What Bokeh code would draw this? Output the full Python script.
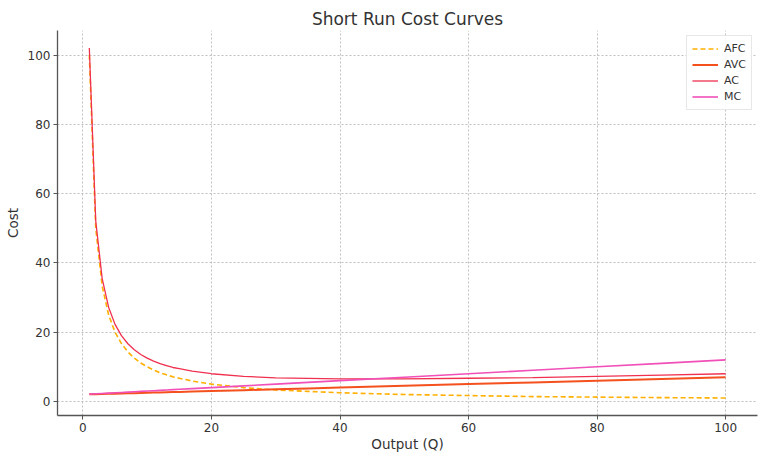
from bokeh.plotting import figure
from bokeh.models import FixedTicker, Range1d
from bokeh.embed import file_html
from bokeh.resources import INLINE

# Output levels and values
Q   = [1, 2, 3, 4, 5, 6, 7, 8, 9, 10, 11, 12, 13, 14, 15, 17, 20, 25, 30, 35, 40, 50, 60, 70, 80, 90, 100]
AFC = [100, 50, 33.3, 25, 20, 16.7, 14.3, 12.5, 11.1, 10, 9.1, 8.3, 7.7, 7.1, 6.7, 5.9, 5, 4, 3.3, 2.9, 2.5, 2, 1.7, 1.4, 1.25, 1.1, 1.0]
AVC = [2.05, 2.1, 2.15, 2.2, 2.25, 2.3, 2.35, 2.4, 2.45, 2.5, 2.55, 2.6, 2.65, 2.7, 2.75, 2.85, 3, 3.25, 3.5, 3.75, 4, 4.5, 5, 5.5, 6, 6.5, 7]
AC  = [102.05, 52.1, 35.45, 27.2, 22.25, 19.0, 16.65, 14.9, 13.55, 12.5, 11.65, 10.9, 10.35, 9.8, 9.45, 8.75, 8, 7.25, 6.8, 6.65, 6.5, 6.5, 6.7, 6.9, 7.25, 7.6, 8]
MC  = [2.1, 2.2, 2.3, 2.4, 2.5, 2.6, 2.7, 2.8, 2.9, 3, 3.1, 3.2, 3.3, 3.4, 3.5, 3.7, 4, 4.5, 5, 5.5, 6, 7, 8, 9, 10, 11, 12]

x_ticks = [0, 20, 40, 60, 80, 100]
y_ticks = [0, 20, 40, 60, 80, 100]

FONT = "DejaVu Sans"

p = figure(width=768, height=461, output_backend="svg", toolbar_location=None,
           x_range=Range1d(-3.95, 104.95), y_range=Range1d(-4.06, 107.1),
           min_border_left=57, min_border_right=11, min_border_top=30, min_border_bottom=46,
           title="Short Run Cost Curves")

p.title.align = "center"
p.title.text_font = FONT
p.title.text_font_size = "17px"
p.title.text_font_style = "normal"
p.title.text_color = "#333333"
p.title.standoff = 4

p.outline_line_color = None
p.background_fill_color = "white"
p.border_fill_color = "white"

for ax in (p.xaxis, p.yaxis):
    ax.axis_line_color = "#555555"
    ax.axis_line_width = 1.3
    ax.major_tick_line_color = "#555555"
    ax.major_tick_out = 4
    ax.major_tick_in = 0
    ax.minor_tick_line_color = None
    ax.major_label_text_font = FONT
    ax.major_label_text_font_size = "12px"
    ax.major_label_text_color = "#333333"
    ax.major_label_standoff = 3
    ax.axis_label_text_font = FONT
    ax.axis_label_text_font_size = "13.5px"
    ax.axis_label_text_font_style = "normal"
    ax.axis_label_text_color = "#333333"

p.xaxis.ticker = FixedTicker(ticks=x_ticks)
p.yaxis.ticker = FixedTicker(ticks=y_ticks)
p.xaxis.axis_label = "Output (Q)"
p.yaxis.axis_label = "Cost"
p.xaxis.axis_label_standoff = 1
p.yaxis.axis_label_standoff = 4

for g in (p.xgrid, p.ygrid):
    g.grid_line_color = "#b0b0b0"
    g.grid_line_dash = "2 2"
    g.grid_line_width = 0.8

p.line(Q, AFC, color="#FFB000", line_width=1.6, line_dash="5 3", legend_label="AFC")
p.line(Q, AVC, color="#F4511E", line_width=2.0, legend_label="AVC")
p.line(Q, AC, color="#F0304F", line_width=1.3, legend_label="AC")
p.line(Q, MC, color="#F050B8", line_width=1.6, legend_label="MC")

lg = p.legend[0]
lg.location = "top_right"
lg.margin = 5
lg.padding = 5
lg.spacing = 1
lg.label_text_font = FONT
lg.label_text_font_size = "11px"
lg.label_text_color = "#333333"
lg.label_height = 15
lg.glyph_height = 15
lg.glyph_width = 26
lg.label_standoff = 6
lg.border_line_color = "#d0d0d0"
lg.border_line_width = 1
lg.background_fill_alpha = 0.9

open("out.html", "w").write(file_html(p, INLINE))
